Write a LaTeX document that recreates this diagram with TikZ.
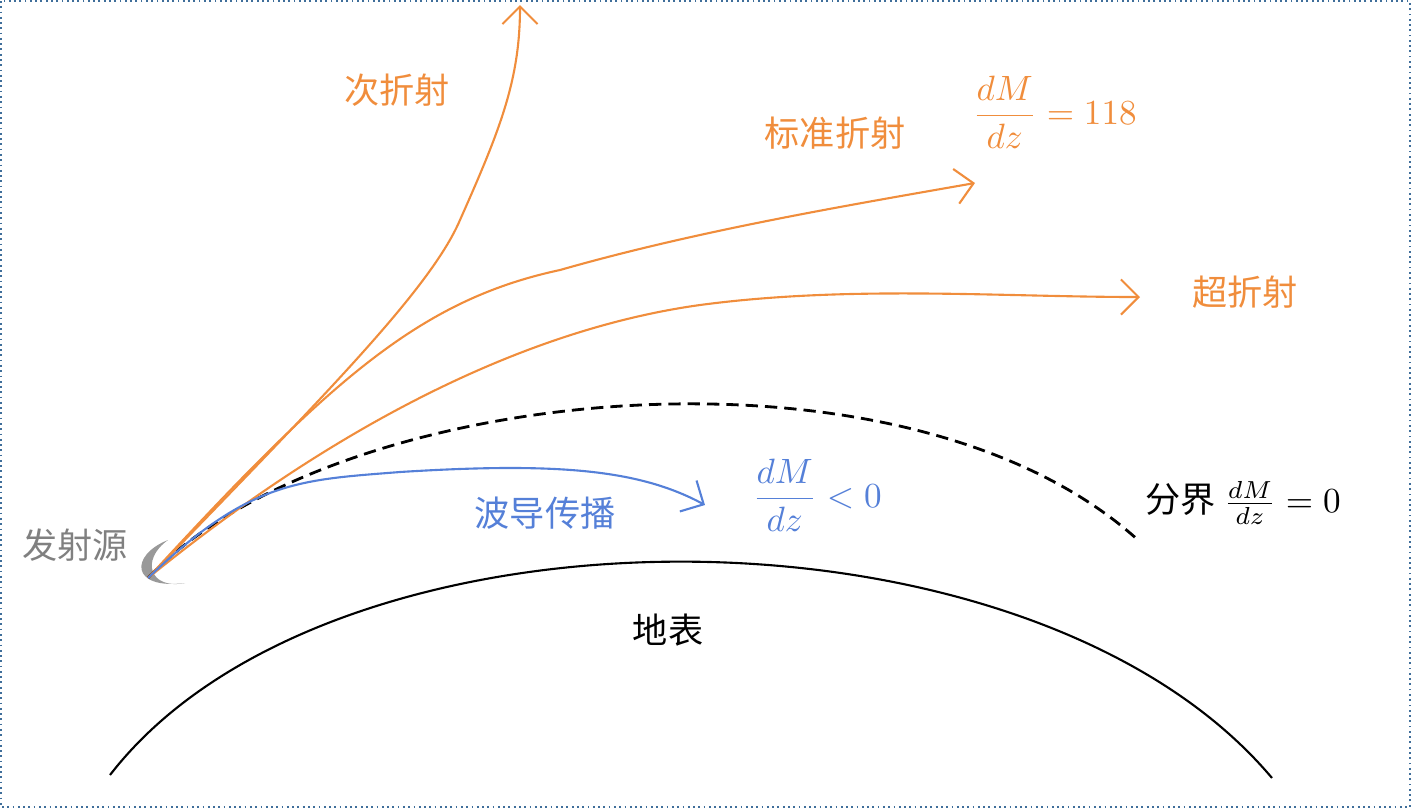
\documentclass[tikz,border=0pt]{standalone}
\usepackage{fontspec}
\setmainfont{Noto Sans CJK SC}
\usetikzlibrary{arrows.meta}
\definecolor{raycol}{HTML}{F08D3C}
\definecolor{ductcol}{HTML}{5580D8}
\definecolor{framecol}{HTML}{3F6E9A}
\begin{document}
\begin{tikzpicture}[x=0.01cm,y=-0.01cm,
  ray/.style={raycol,line width=0.6pt,-{Straight Barb[length=5pt,width=10pt]}},
  lbl/.style={font=\fontsize{10}{12}\selectfont}]
\useasboundingbox (0,0) rectangle (1411,808);
\draw[framecol,densely dotted,line width=0.5pt] (1,1) rectangle (1410,807);
% source
\coordinate (src) at (148,578);
\fill[gray!80] (168,540) .. controls (130,555) and (130,590) .. (185,583)
  .. controls (150,590) and (140,560) .. (168,540) -- cycle;
\node[lbl,gray] (srcl) at (75,545) {发射源};
% ground and boundary
\coordinate (g1) at (110,775); \coordinate (g2) at (1272,778);
\draw[line width=0.6pt] (g1) .. controls (330,490) and (1030,490) .. (g2);
\node[lbl] (gnd) at (668,630) {地表};
\coordinate (b2) at (1138,540);
\draw[line width=0.8pt,dash pattern=on 3.5pt off 2pt] (src) .. controls (330,385) and (900,325) .. (b2);
\node[lbl,anchor=west] (bl) at (1133,503) {分界 $\frac{dM}{dz}=0$};
% rays
\coordinate (e1) at (520,5); \coordinate (e2) at (975,183);
\coordinate (e3) at (1140,297); \coordinate (e4) at (705,505);
\draw[ray] (src) .. controls (320,400) and (430,290) .. (460,220) .. controls (500,130) and (520,80) .. (e1);
\draw[ray] (src) .. controls (330,380) and (420,300) .. (560,270) .. controls (700,230) and (850,205) .. (e2);
\draw[ray] (src) .. controls (330,430) and (520,330) .. (700,305) .. controls (850,285) and (1000,297) .. (e3);
\draw[ray,ductcol] (src) .. controls (250,480) and (300,480) .. (400,472) .. controls (560,462) and (640,470) .. (e4);
\node[lbl,raycol] (l1) at (397,90) {次折射};
\node[lbl,raycol] (l2) at (835,133) {标准折射};
\node[lbl,raycol,anchor=west] (l2m) at (960,112) {$\displaystyle\frac{dM}{dz}=118$};
\node[lbl,raycol] (l3) at (1245,292) {超折射};
\node[lbl,ductcol] (l4) at (545,513) {波导传播};
\node[lbl,ductcol,anchor=west] (l4m) at (740,495) {$\displaystyle\frac{dM}{dz}<0$};
\end{tikzpicture}
\end{document}
